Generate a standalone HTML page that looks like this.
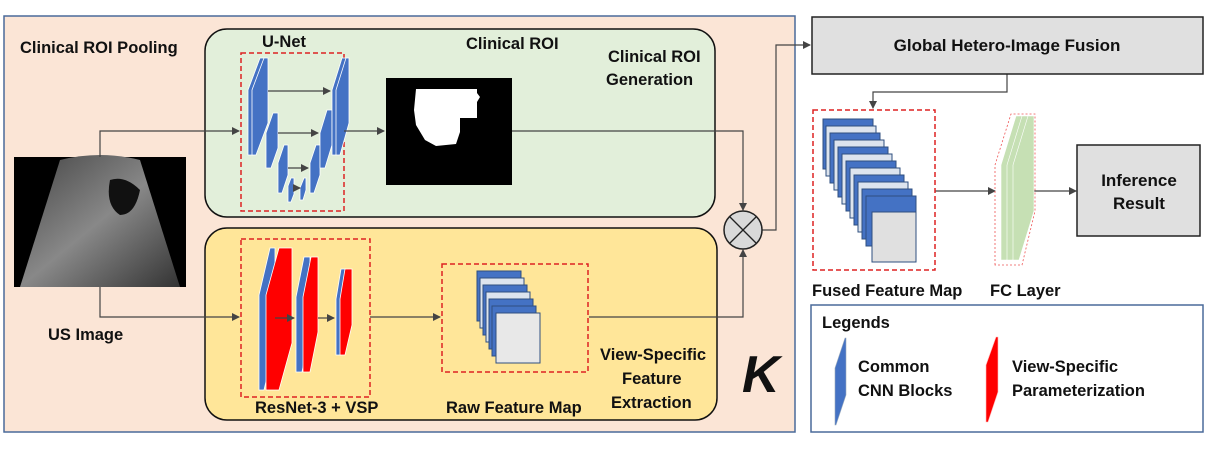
<!DOCTYPE html>
<html><head><meta charset="utf-8"><style>
html,body{margin:0;padding:0;background:#fff;width:1207px;height:460px;overflow:hidden}
svg{display:block}
text{font-family:"Liberation Sans",sans-serif;font-weight:bold;fill:#111}
</style></head><body>
<svg width="1207" height="460" viewBox="0 0 1207 460" xmlns="http://www.w3.org/2000/svg">
<defs>
<marker id="a" markerWidth="8" markerHeight="8" refX="7" refY="4" orient="auto" markerUnits="userSpaceOnUse"><path d="M0,0 L8,4 L0,8z" fill="#444"/></marker>
<linearGradient id="us" x1="0" y1="0" x2="1" y2="1"><stop offset="0" stop-color="#444"/><stop offset="0.5" stop-color="#888"/><stop offset="1" stop-color="#333"/></linearGradient>
</defs>
<!-- outer peach -->
<rect x="4" y="16" width="791" height="416" fill="#fbe5d6" stroke="#4a6a9a" stroke-width="1.5"/>
<text x="20" y="53" font-size="16.5">Clinical ROI Pooling</text>
<!-- green -->
<rect x="205" y="29" width="510" height="188" rx="22" fill="#e2efda" stroke="#111" stroke-width="1.5"/>
<!-- yellow -->
<rect x="205" y="228" width="512" height="192" rx="22" fill="#ffe699" stroke="#111" stroke-width="1.5"/>
<text x="262" y="47" font-size="16.5">U-Net</text>
<text x="466" y="49" font-size="16.5">Clinical ROI</text>
<text x="608" y="62" font-size="16.5">Clinical ROI</text>
<text x="606" y="85" font-size="16.5">Generation</text>
<rect x="241" y="53" width="103" height="158" fill="none" stroke="#d22" stroke-width="1.5" stroke-dasharray="5,3"/>
<!-- unet blocks -->
<g fill="#4472c4" stroke="#fff" stroke-width="0.8">
<polygon points="248,155 248,90 260,58 266,58 266,123 254,155"/>
<polygon points="252,155 252,90 264,58 268,58 268,123 256,155"/>
<polygon points="266,168 266,133 273,113 278,113 278,148 271,168"/>
<polygon points="278,193 278,163 284,145 288,145 288,175 282,193"/>
<polygon points="288,202 288,186 291,178 294,178 294,194 291,202"/>
<polygon points="300,200 300,188 304,178 306,178 306,190 303,200"/>
<polygon points="310,193 310,163 316,145 320,145 320,175 314,193"/>
<polygon points="320,168 320,133 327,110 332,110 332,145 325,168"/>
<polygon points="332,155 332,90 342,58 346,58 346,123 336,155"/>
<polygon points="336,155 336,90 346,58 349,58 349,123 340,155"/>
</g>
<!-- ROI image -->
<rect x="386" y="78" width="126" height="107" fill="#000"/>
<path d="M416,89 L477,89 L477,93 L480,97 L477,102 L477,118 L460,118 L460,132 L456,144 L436,146 L425,140 L416,125 L414,110z" fill="#fff"/>
<!-- US image -->
<rect x="14" y="157" width="172" height="130" fill="#000"/>
<path d="M60,160 Q100,150 140,160 L180,287 L20,287z" fill="url(#us)"/>
<path d="M110,180 Q125,175 140,190 Q135,215 120,215 Q105,205 110,180z" fill="#111"/>
<text x="48" y="340" font-size="16.5">US Image</text>
<!-- yellow content -->
<rect x="241" y="239" width="129" height="158" fill="none" stroke="#d22" stroke-width="1.5" stroke-dasharray="5,3"/>
<g stroke="#fff" stroke-width="0.8">
<polygon points="259,390 259,295 270,248 275,248 275,343 264,390" fill="#4472c4"/>
<polygon points="266,390 266,295 279,248 292,248 292,343 279,390" fill="#f00"/>
<polygon points="296,372 296,297 304,257 310,257 310,332 302,372" fill="#4472c4"/>
<polygon points="303,372 303,297 311,257 318,257 318,332 310,372" fill="#f00"/>
<polygon points="336,355 336,299 341,269 346,269 346,325 341,355" fill="#4472c4"/>
<polygon points="340,355 340,299 345,269 352,269 352,325 345,355" fill="#f00"/>
</g>
<text x="255" y="413" font-size="16.5">ResNet-3 + VSP</text>
<rect x="442" y="264" width="146" height="108" fill="none" stroke="#d22" stroke-width="1.5" stroke-dasharray="5,3"/>
<g stroke="#2f4f7f" stroke-width="1">
<rect x="477" y="271" width="44" height="50" fill="#4472c4"/>
<rect x="480" y="278" width="44" height="50" fill="#dde4ee"/>
<rect x="483" y="285" width="44" height="50" fill="#4472c4"/>
<rect x="486" y="292" width="44" height="50" fill="#dde4ee"/>
<rect x="489" y="299" width="44" height="50" fill="#4472c4"/>
<rect x="492" y="306" width="44" height="50" fill="#4472c4"/>
<rect x="496" y="313" width="44" height="50" fill="#e8e8e8"/>
</g>
<text x="446" y="413" font-size="16.5">Raw Feature Map</text>
<text x="600" y="360" font-size="16.5">View-Specific</text>
<text x="622" y="384" font-size="16.5">Feature</text>
<text x="611" y="408" font-size="16.5">Extraction</text>
<text x="742" y="392" font-size="52" font-style="italic" style="font-weight:900">K</text>
<!-- connectors -->
<g stroke="#444" stroke-width="1.2" fill="none">
<polyline points="100,157 100,131 239,131" marker-end="url(#a)"/>
<line x1="268" y1="91" x2="330" y2="91" marker-end="url(#a)"/>
<line x1="278" y1="133" x2="318" y2="133" marker-end="url(#a)"/>
<line x1="288" y1="168" x2="308" y2="168" marker-end="url(#a)"/>
<line x1="294" y1="188" x2="300" y2="188" marker-end="url(#a)"/>
<line x1="344" y1="131" x2="384" y2="131" marker-end="url(#a)"/>
<polyline points="512,131 743,131 743,210" marker-end="url(#a)"/>
<polyline points="100,287 100,317 239,317" marker-end="url(#a)"/>
<line x1="275" y1="318" x2="294" y2="318" marker-end="url(#a)"/>
<line x1="318" y1="318" x2="334" y2="318" marker-end="url(#a)"/>
<polyline points="370,317 440,317" marker-end="url(#a)"/>
<polyline points="589,317 743,317 743,250" marker-end="url(#a)"/>
<polyline points="761,230 776,230 776,45 810,45" marker-end="url(#a)"/>
<polyline points="1007,74 1007,92 873,92 873,108" marker-end="url(#a)"/>
<line x1="935" y1="191" x2="995" y2="191" marker-end="url(#a)"/>
<line x1="1031" y1="191" x2="1076" y2="191" marker-end="url(#a)"/>
</g>
<!-- multiply -->
<circle cx="743" cy="230" r="19" fill="#d9d9d9" stroke="#222" stroke-width="1.5"/>
<line x1="730" y1="217" x2="756" y2="243" stroke="#222" stroke-width="1.3"/>
<line x1="756" y1="217" x2="730" y2="243" stroke="#222" stroke-width="1.3"/>
<!-- right side -->
<rect x="812" y="17" width="391" height="57" fill="#e0e0e0" stroke="#222" stroke-width="1.5"/>
<text x="1007" y="51" font-size="17" text-anchor="middle">Global Hetero-Image Fusion</text>
<rect x="813" y="110" width="122" height="160" fill="none" stroke="#d22" stroke-width="1.5" stroke-dasharray="5,3"/>
<g stroke="#2f4f7f" stroke-width="1">
<rect x="823" y="119" width="50" height="50" fill="#4472c4"/>
<rect x="826" y="126" width="50" height="50" fill="#dde4ee"/>
<rect x="830" y="133" width="50" height="50" fill="#4472c4"/>
<rect x="834" y="140" width="50" height="50" fill="#dde4ee"/>
<rect x="838" y="147" width="50" height="50" fill="#4472c4"/>
<rect x="842" y="154" width="50" height="50" fill="#dde4ee"/>
<rect x="846" y="161" width="50" height="50" fill="#4472c4"/>
<rect x="850" y="168" width="50" height="50" fill="#dde4ee"/>
<rect x="854" y="175" width="50" height="50" fill="#4472c4"/>
<rect x="858" y="182" width="50" height="50" fill="#dde4ee"/>
<rect x="862" y="189" width="50" height="50" fill="#4472c4"/>
<rect x="866" y="196" width="50" height="50" fill="#4472c4"/>
<rect x="872" y="212" width="44" height="50" fill="#e0e0e0"/>
</g>
<g stroke="#fff" stroke-width="0.6" fill="#c6e0b4">
<polygon points="1001,260 1001,165 1016,116 1022,116 1022,211 1007,260"/>
<polygon points="1007,260 1007,165 1022,116 1028,116 1028,211 1013,260"/>
<polygon points="1013,260 1013,165 1028,116 1034,116 1034,211 1019,260"/>
</g>
<polygon points="995,265 995,165 1011,114 1035,114 1035,211 1022,265" fill="none" stroke="#e55" stroke-width="0.8" stroke-dasharray="2,2"/>
<rect x="1077" y="145" width="123" height="91" fill="#e0e0e0" stroke="#222" stroke-width="1.5"/>
<text x="1139" y="186" font-size="17" text-anchor="middle">Inference</text>
<text x="1139" y="209" font-size="17" text-anchor="middle">Result</text>
<text x="812" y="296" font-size="16.5">Fused Feature Map</text>
<text x="990" y="296" font-size="16.5">FC Layer</text>
<rect x="811" y="305" width="392" height="127" fill="#fff" stroke="#4a6a9a" stroke-width="1.5"/>
<text x="822" y="328" font-size="16.5">Legends</text>
<polygon points="835,425 835,368 845,338 846,338 846,395 836,425" fill="#4472c4" stroke="#9ab" stroke-width="0.6"/>
<polygon points="986,422 986,365 996,337 998,337 998,392 988,422" fill="#f00" stroke="#fbb" stroke-width="0.6"/>
<text x="858" y="372" font-size="16.5">Common</text>
<text x="858" y="396" font-size="16.5">CNN Blocks</text>
<text x="1012" y="372" font-size="16.5">View-Specific</text>
<text x="1012" y="396" font-size="16.5">Parameterization</text>
</svg>
</body></html>
